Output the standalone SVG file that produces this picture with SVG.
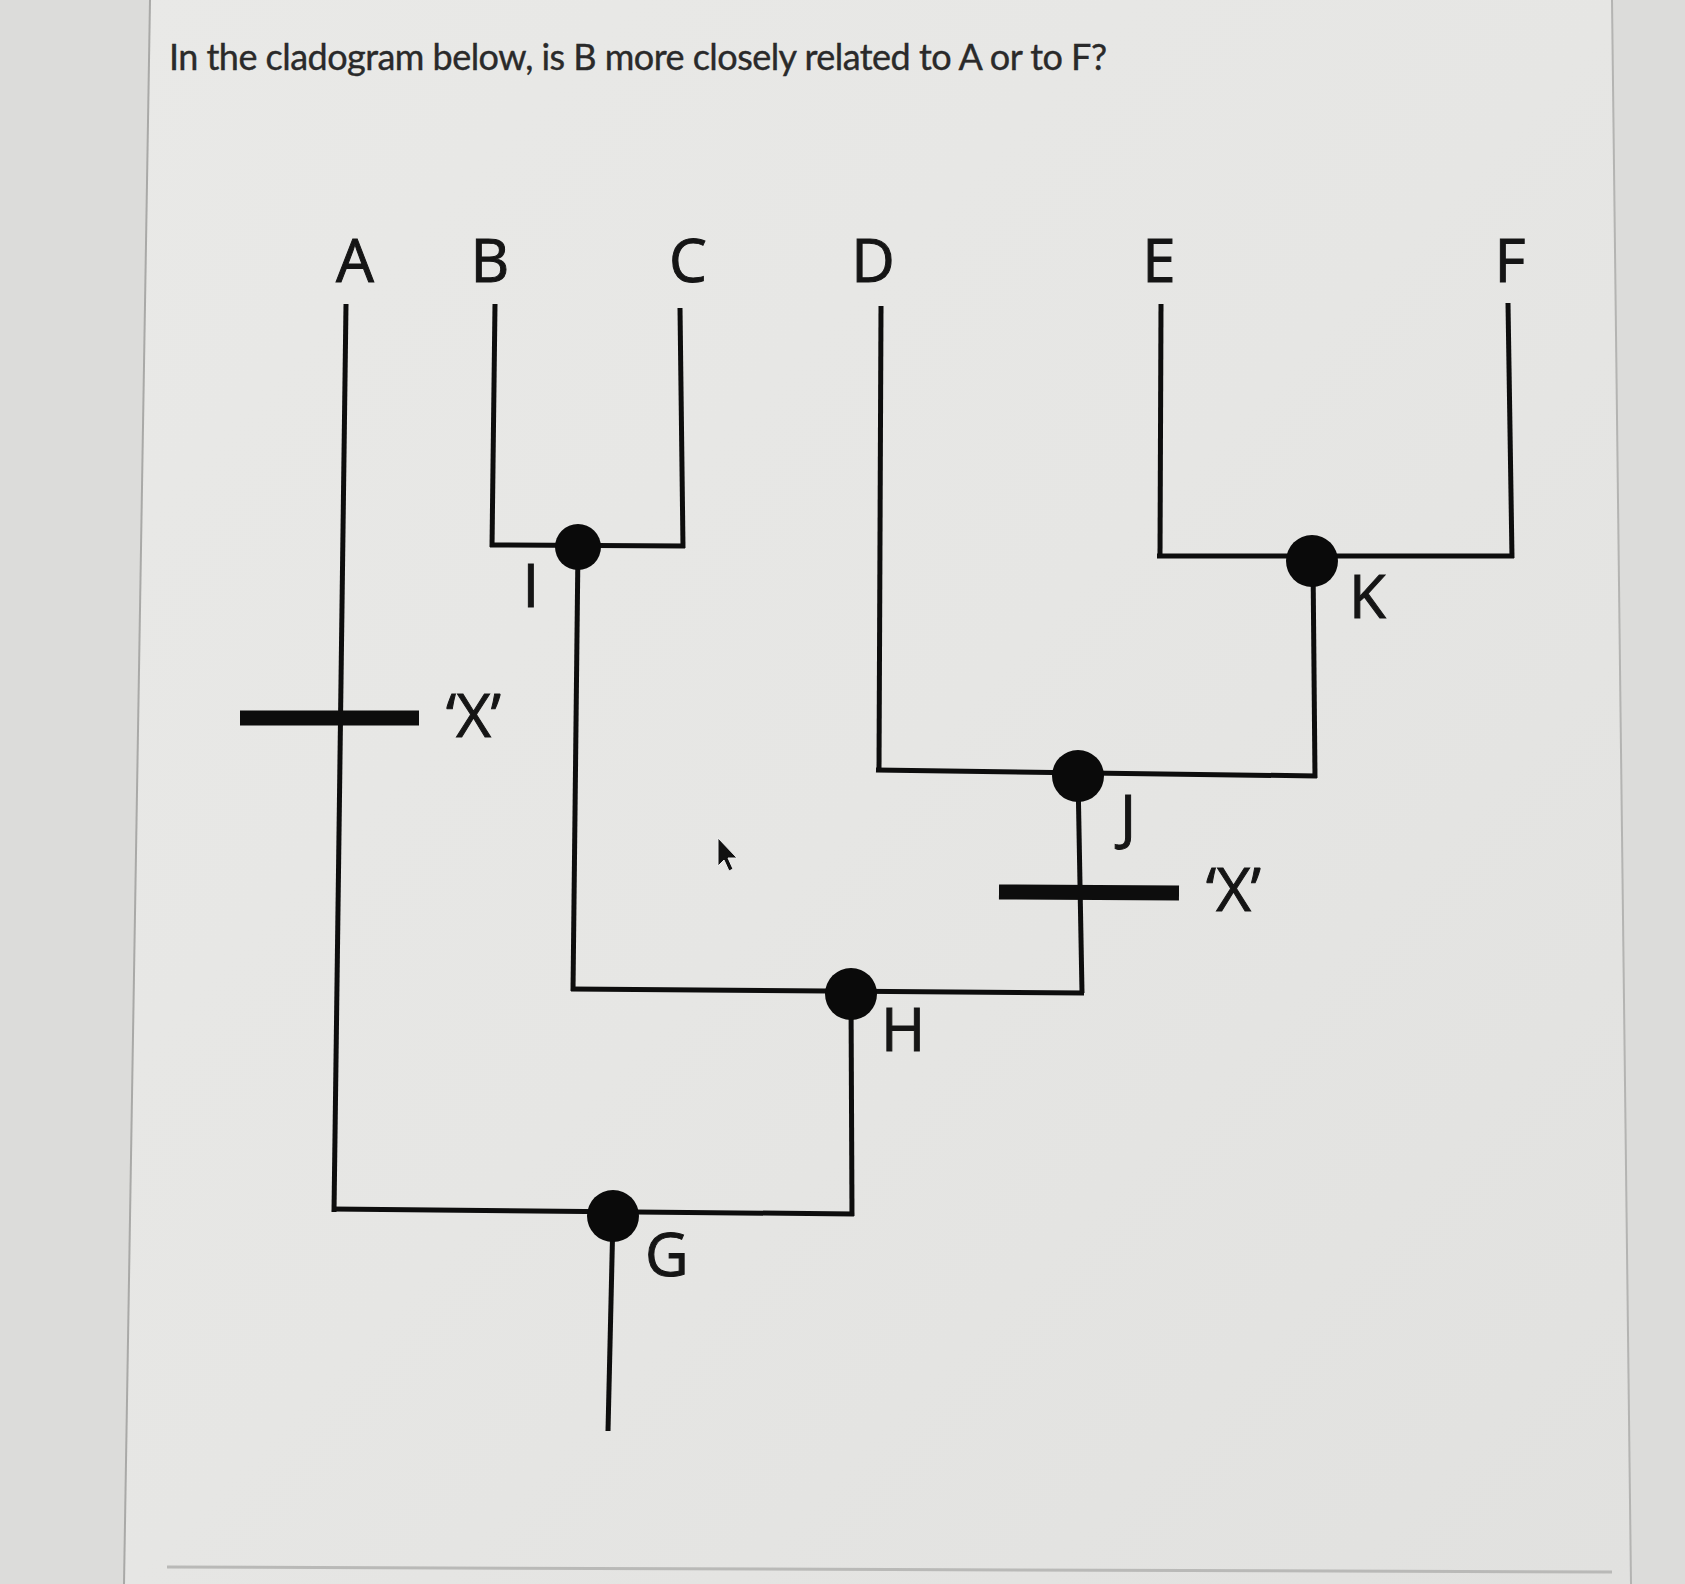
<svg xmlns="http://www.w3.org/2000/svg" width="1685" height="1584" viewBox="0 0 1685 1584">
<defs>
<linearGradient id="bg" x1="0" y1="0" x2="1" y2="1">
<stop offset="0" stop-color="#e9e9e7"/>
<stop offset="0.5" stop-color="#e6e6e4"/>
<stop offset="1" stop-color="#e1e1df"/>
</linearGradient>
<style>
.ln{stroke:#0d0d0d;stroke-width:5;fill:none;stroke-linecap:butt}
.bar{stroke:#0d0d0d;stroke-width:15;fill:none}
.nd{fill:#0a0a0a}
.tx{font-family:"Open Sans","DejaVu Sans",sans-serif;font-size:60px;fill:#151515;stroke:#151515;stroke-width:1}
.ttl{font-family:Lato,"Open Sans",sans-serif;font-size:36px;fill:#2a2a2a;stroke:#2a2a2a;stroke-width:0.4}
</style>
</defs>
<rect width="1685" height="1584" fill="#dcdcda"/>
<polygon points="150,0 1612,0 1631,1584 124,1584" fill="url(#bg)"/>
<line x1="150" y1="0" x2="124" y2="1584" stroke="#a9a9a7" stroke-width="2"/>
<line x1="1612" y1="0" x2="1631" y2="1584" stroke="#b4b4b2" stroke-width="2"/>
<line x1="167" y1="1567" x2="1612" y2="1572" stroke="#b9b9b7" stroke-width="3"/>
<text class="ttl" x="169" y="70" textLength="938" lengthAdjust="spacing">In the cladogram below, is B more closely related to A or to F?</text>
<g id="connectors">
<line class="ln" x1="346" y1="304" x2="334" y2="1212"/>
<line class="ln" x1="495" y1="304" x2="492" y2="547"/>
<line class="ln" x1="680" y1="308" x2="683" y2="548"/>
<line class="ln" x1="490" y1="545" x2="685" y2="546"/>
<line class="ln" x1="578" y1="547" x2="573" y2="991"/>
<line class="ln" x1="571" y1="989" x2="1084" y2="993"/>
<line class="ln" x1="881" y1="306" x2="879" y2="772"/>
<line class="ln" x1="876" y1="770" x2="1317" y2="776"/>
<line class="ln" x1="1315" y1="778" x2="1313" y2="561"/>
<line class="ln" x1="1161" y1="304" x2="1160" y2="558"/>
<line class="ln" x1="1508" y1="303" x2="1512" y2="558"/>
<line class="ln" x1="1157" y1="556" x2="1514" y2="556"/>
<line class="ln" x1="1078" y1="776" x2="1082" y2="993"/>
<line class="ln" x1="851" y1="994" x2="852" y2="1216"/>
<line class="ln" x1="332" y1="1209" x2="854" y2="1214"/>
<line class="ln" x1="613" y1="1216" x2="608" y2="1431"/>
<line class="bar" x1="240" y1="718" x2="419" y2="718"/>
<line class="bar" x1="999" y1="892" x2="1179" y2="893"/>
</g>
<g id="A"><text class="tx" x="355" y="282" text-anchor="middle">A</text></g>
<g id="B"><text class="tx" x="490" y="282" text-anchor="middle">B</text></g>
<g id="C"><text class="tx" x="688" y="282" text-anchor="middle">C</text></g>
<g id="D"><text class="tx" x="873" y="282" text-anchor="middle">D</text></g>
<g id="E"><text class="tx" x="1159" y="282" text-anchor="middle">E</text></g>
<g id="F"><text class="tx" x="1510" y="282" text-anchor="middle">F</text></g>
<g id="I"><circle class="nd" cx="578" cy="547" r="23"/><text class="tx" x="531" y="607" text-anchor="middle">I</text></g>
<g id="K"><circle class="nd" cx="1312" cy="561" r="26"/><text class="tx" x="1349" y="618">K</text></g>
<g id="J"><circle class="nd" cx="1078" cy="776" r="26"/><text class="tx" x="1128" y="838" text-anchor="middle">J</text></g>
<g id="H"><circle class="nd" cx="851" cy="994" r="26"/><text class="tx" x="881" y="1051">H</text></g>
<g id="G"><circle class="nd" cx="613" cy="1216" r="26"/><text class="tx" x="645" y="1276">G</text></g>
<g id="X1"><text class="tx" x="446" y="737">‘X’</text></g>
<g id="X2"><text class="tx" x="1206" y="911">‘X’</text></g>
<polygon points="718,838 718,866 724,860 729,871 733,869 728,858 737,858" fill="#111" stroke="#eee" stroke-width="1"/>
</svg>
